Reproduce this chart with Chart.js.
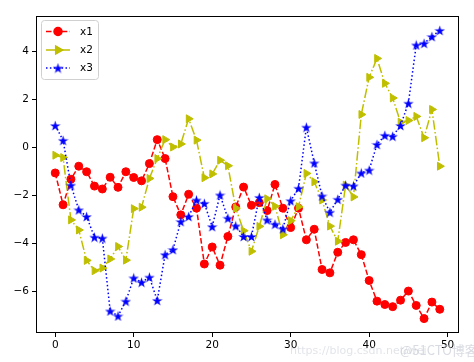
<!DOCTYPE html>
<html>
<head>
<meta charset="utf-8">
<script src="https://cdn.jsdelivr.net/npm/chart.js@4/dist/chart.umd.min.js"></script>
<style>
  body { margin: 0; background: #fff; }
  canvas { display: block; }
</style>
</head>
<body>
<canvas id="myChart" width="474" height="362"></canvas>
<script>
// values, index 0..49
const xs = Array.from({ length: 50 }, (_, i) => i)
const x1 = [-1.07,-2.40,-1.33,-0.79,-1.02,-1.62,-1.74,-1.25,-1.67,-1.02,
  -1.26,-1.40,-0.68,0.32,-0.47,-2.06,-2.82,-1.96,-2.54,-4.87,
  -4.16,-4.92,-3.72,-2.49,-1.66,-2.42,-2.31,-2.64,-1.55,-2.54,
  -3.35,-2.54,-3.86,-3.42,-5.10,-5.24,-4.38,-3.97,-3.86,-4.48,
  -5.56,-6.42,-6.56,-6.65,-6.38,-6.00,-6.60,-7.15,-6.46,-6.76]
const x2 = [-0.33,-0.43,-3.03,-3.45,-4.72,-5.15,-5.04,-4.66,-4.14,-4.71,
  -2.56,-2.50,-1.30,-0.47,0.32,0.01,0.14,1.19,0.30,-1.27,
  -1.11,-0.54,-0.77,-2.54,-3.48,-4.34,-3.30,-2.15,-2.46,-3.65,
  -3.06,-2.48,-1.09,-1.44,-2.20,-3.29,-3.92,-1.58,-2.07,1.37,
  2.92,3.71,2.67,2.06,1.05,1.12,1.29,0.40,1.58,-0.79]
const x3 = [0.91,0.29,-1.58,-2.61,-2.89,-3.75,-3.79,-6.83,-7.04,-6.42,
  -5.45,-5.63,-5.42,-6.39,-4.48,-4.27,-3.10,-2.89,-2.20,-2.34,
  -3.31,-1.99,-2.96,-3.28,-3.72,-3.72,-2.09,-3.03,-3.21,-3.40,
  -2.23,-1.71,0.84,-0.65,-2.03,-2.71,-2.17,-1.58,-1.61,-1.07,
  -0.95,0.12,0.50,0.46,0.91,1.84,4.27,4.34,4.62,4.88]
const xTicks = [0, 10, 20, 30, 40, 50]
const yTicks = [-6, -4, -2, 0, 2, 4]
const seriesNames = ['x1', 'x2', 'x3']

// filled 5 point star like matplotlib '*'
function starImg(size, color) {
  const c = document.createElement('canvas')
  c.width = c.height = size
  const g = c.getContext('2d')
  g.fillStyle = color
  g.beginPath()
  for (let k = 0; k < 10; k++) {
    const r = k % 2 ? size * 0.5 * 0.382 : size * 0.5
    const a = -Math.PI / 2 + k * Math.PI / 5
    g.lineTo(size / 2 + r * Math.cos(a), size / 2 + 0.6 + r * Math.sin(a))
  }
  g.closePath()
  g.fill()
  return c
}
const star = starImg(11, '#0000ff')

const minus = v => (v < 0 ? '\u2212' + Math.abs(v) : '' + v)
const pts = arr => arr.map((v, i) => ({ x: xs[i], y: v }))

const styles = [
  { color: '#ff0000', dash: [5.5, 2.4], style: 'circle', radius: 4, rot: 0 },
  { color: '#bfbf00', dash: [9.5, 2.4, 1.5, 2.4], style: 'triangle', radius: 4.6, rot: 90 },
  { color: '#0000ff', dash: [1.5, 2.4], style: star, radius: 5, rot: 0 }
]

// frame, legend and watermark
const extras = {
  id: 'extras',
  afterDatasetsDraw(chart) {
    const ctx = chart.ctx
    const a = chart.chartArea
    ctx.save()
    ctx.strokeStyle = '#000'
    ctx.lineWidth = 1
    ctx.strokeRect(a.left + 0.5, a.top + 0.5, a.right - a.left - 1, a.bottom - a.top - 1)

    // legend box
    const bx = 41.5, by = 20.5, bw = 57, bh = 59, r = 3
    ctx.beginPath()
    ctx.roundRect(bx, by, bw, bh, r)
    ctx.fillStyle = 'rgba(255,255,255,0.8)'
    ctx.fill()
    ctx.strokeStyle = '#d0d0d0'
    ctx.stroke()
    const rows = [31.5, 50, 68]
    styles.forEach((s, k) => {
      const y = rows[k]
      ctx.beginPath()
      ctx.setLineDash(s.dash)
      ctx.strokeStyle = s.color
      ctx.lineWidth = 1.5
      ctx.moveTo(46, y)
      ctx.lineTo(70, y)
      ctx.stroke()
      ctx.setLineDash([])
      Chart.helpers.drawPoint(ctx, {
        pointStyle: s.style, radius: s.radius, rotation: s.rot, borderWidth: 1
      }, 58, y)
      if (s.style !== star) {
        ctx.fillStyle = s.color
        ctx.fill()
      }
      ctx.fillStyle = '#000'
      ctx.font = '10.5px "DejaVu Sans"'
      ctx.textBaseline = 'middle'
      ctx.textAlign = 'left'
      ctx.fillText(seriesNames[k], 80, y + 0.5)
    })

    // faint watermark
    ctx.font = '11px "DejaVu Sans"'
    ctx.textBaseline = 'alphabetic'
    ctx.fillStyle = 'rgba(200,205,215,0.55)'
    ctx.fillText('https://blog.csdn.net/wei', 290, 354)
    ctx.font = '13px "Noto Sans CJK SC"'
    ctx.fillStyle = 'rgba(190,195,205,0.6)'
    ctx.fillText('@51CTO博客', 400, 355)
    ctx.restore()
  }
}

const ctx = document.getElementById('myChart')
new Chart(ctx, {
  type: 'line',
  data: {
    datasets: [0, 1, 2].map(k => ({
      label: seriesNames[k],
      data: pts([x1, x2, x3][k]),
      borderColor: styles[k].color,
      backgroundColor: styles[k].color,
      borderWidth: 1.5,
      borderDash: styles[k].dash,
      pointStyle: styles[k].style,
      pointRadius: styles[k].radius,
      pointRotation: styles[k].rot,
      pointBorderWidth: 1,
      pointBorderColor: styles[k].color,
      pointBackgroundColor: styles[k].color,
      tension: 0,
      fill: false,
      order: 3 - k
    }))
  },
  options: {
    responsive: false,
    animation: false,
    layout: { padding: { top: 16, right: 15, left: 0, bottom: 0 } },
    plugins: { legend: { display: false }, tooltip: { enabled: false } },
    scales: {
      x: {
        type: 'linear',
        min: -2.45,
        max: 51.45,
        afterBuildTicks: s => { s.ticks = xTicks.map(v => ({ value: v })) },
        afterFit: s => { s.height = 29 },
        grid: { drawOnChartArea: false, drawTicks: true, tickLength: 4, color: '#000' },
        border: { display: false },
        ticks: { color: '#000', padding: 2, maxRotation: 0, font: { size: 10.5, family: 'DejaVu Sans' }, callback: v => minus(v) }
      },
      y: {
        type: 'linear',
        min: -7.75,
        max: 5.48,
        afterBuildTicks: s => { s.ticks = yTicks.map(v => ({ value: v })) },
        afterFit: s => { s.width = 36 },
        grid: { drawOnChartArea: false, drawTicks: true, tickLength: 4, color: '#000' },
        border: { display: false },
        ticks: { color: '#000', padding: 3, font: { size: 10.5, family: 'DejaVu Sans' }, callback: v => minus(v) }
      }
    }
  },
  plugins: [extras]
})
</script>
</body>
</html>
